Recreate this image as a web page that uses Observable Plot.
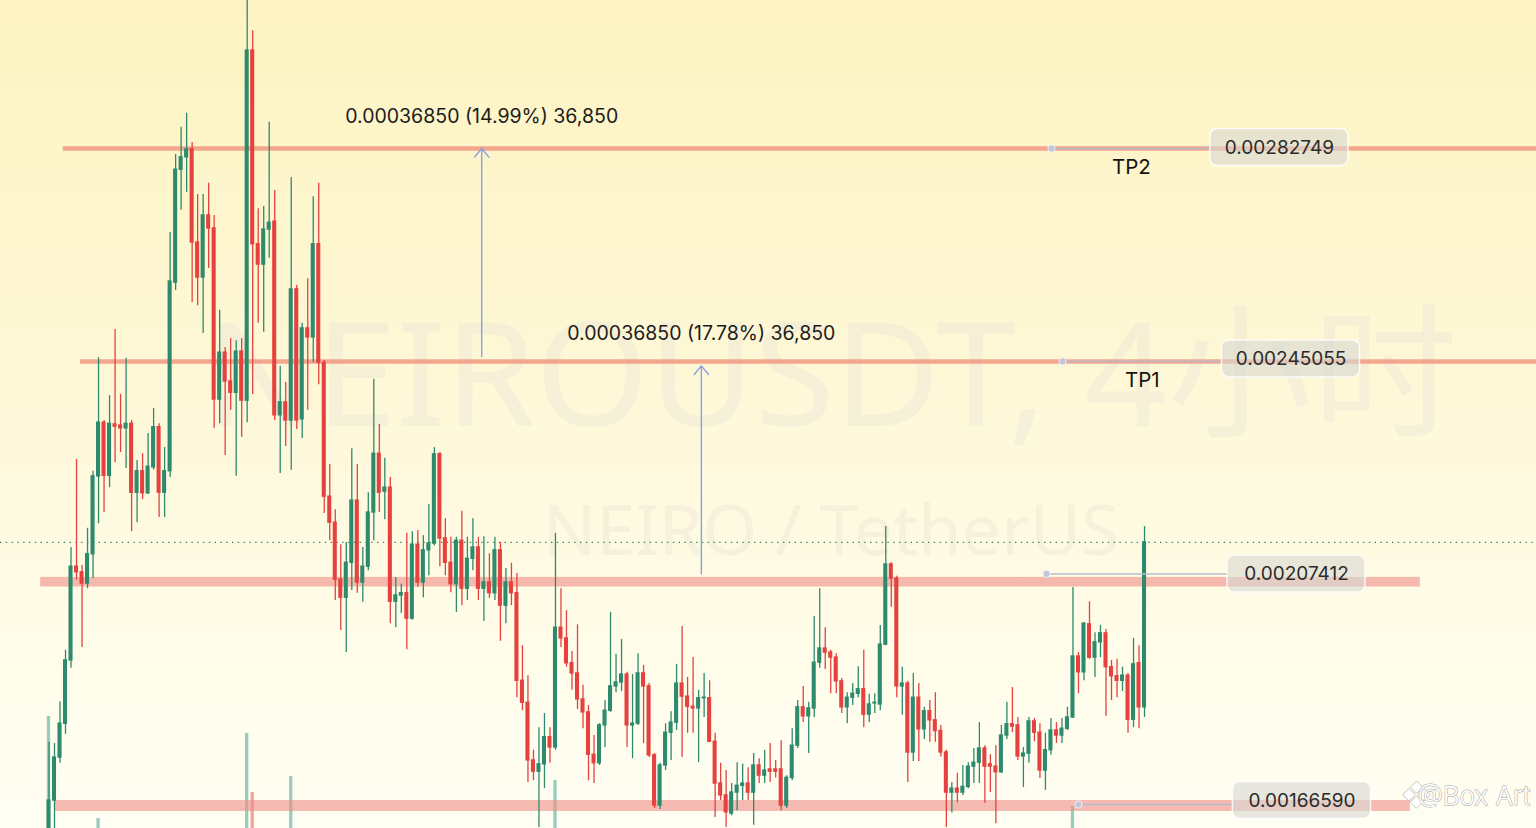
<!DOCTYPE html>
<html><head><meta charset="utf-8">
<script src="https://cdn.jsdelivr.net/npm/d3@7"></script>
<script src="https://cdn.jsdelivr.net/npm/@observablehq/plot@0.6"></script>
<style>
html,body{margin:0;padding:0;overflow:hidden;background:#fffdf0;}
#chart{width:1536px;height:828px;background:linear-gradient(to bottom,#fdf3c2 0%,#fef6cf 30%,#fef9dc 55%,#fffce9 78%,#fffef3 100%);}
#chart svg{display:block;overflow:hidden;}
</style></head><body><div id="chart"></div>
<script>
// NEIRO/USDT 4h candles, prices in µUSDT (×1e-6)
const open = [
1602,1673,1749,1809,1921,2087,2077,2057,2109,2247,
2342,2248,2339,2337,2332,2340,2218,2256,2217,2263,
2334,2218,2256,2590,2790,2812,2826,2661,2599,2709,
2686,2383,2466,2415,2395,2468,2381,3001,2658,2622,
2684,2698,2355,2378,2346,2578,2348,2509,2493,2658,
2448,2211,2165,2064,2032,2094,2204,2059,2087,2183,
2287,2220,2227,2025,2036,2040,1995,2126,2059,2116,
2128,2286,2137,2094,2056,2133,2048,2101,2121,2048,
2059,2040,2116,2018,2059,2040,1885,1846,1744,1724,
1737,1785,1767,1979,1960,1916,1898,1852,1829,1754,
1739,1806,1832,1875,1882,1896,1806,1809,1898,1875,
1753,1664,1735,1793,1811,1880,1857,1839,1836,1854,
1854,1777,1703,1682,1650,1687,1699,1703,1687,1735,
1717,1728,1728,1728,1664,1713,1770,1838,1822,1836,
1917,1942,1935,1926,1884,1838,1855,1862,1870,1825,
1845,1843,1949,2091,2066,1875,1880,1758,1855,1799,
1831,1815,1796,1758,1687,1694,1687,1697,1733,1740,
1765,1737,1733,1723,1788,1808,1806,1751,1756,1813,
1793,1726,1762,1797,1788,1800,1820,1928,1900,1985,
1926,1953,1969,1909,1893,1885,1894,1816,1916,1838];
const high = [
1776,1774,1848,1939,2121,2277,2089,2155,2256,2457,
2346,2390,2507,2392,2456,2346,2275,2287,2323,2367,
2340,2298,2679,2817,2865,2890,2838,2746,2746,2766,
2709,2541,2475,2491,2487,2491,3098,3036,2721,2725,
2874,2753,2442,2413,2776,2585,2518,2597,2742,2766,
2452,2268,2188,2126,2130,2296,2268,2121,2218,2419,
2339,2279,2245,2068,2056,2146,2149,2151,2142,2197,
2298,2289,2172,2139,2139,2185,2139,2172,2139,2140,
2110,2139,2130,2084,2093,2075,1947,1894,1762,1802,
1827,1802,2146,2048,2009,1937,1984,1877,1841,1788,
1809,1850,2006,1932,1958,1900,1896,1933,1912,1880,
1756,1739,1809,1830,1914,1981,1891,1926,1868,1898,
1885,1792,1739,1726,1703,1740,1737,1731,1756,1747,
1762,1774,1744,1779,1717,1800,1850,1875,1847,1999,
2048,1979,1939,1933,1889,1864,1880,1910,1939,1861,
1862,1983,2158,2094,2070,1909,1884,1898,1880,1838,
1850,1864,1806,1762,1705,1721,1735,1740,1765,1811,
1770,1754,1770,1806,1847,1873,1820,1767,1820,1818,
1809,1792,1818,1811,1818,1838,2050,1935,1988,2025,
1970,1983,1976,1921,1923,1909,1898,1960,1947,2158];
const low = [
1593,1611,1739,1790,1907,2063,1944,2048,2066,2163,
2183,2227,2271,2289,2261,2149,2165,2206,2215,2258,
2174,2174,2245,2576,2718,2750,2555,2549,2500,2615,
2332,2340,2284,2364,2247,2316,2342,2392,2518,2502,
2633,2346,2252,2300,2258,2330,2314,2364,2448,2409,
2181,2133,2027,1974,1935,2045,2040,2024,2080,2133,
2183,2170,1986,1979,2004,1940,1992,2050,2032,2071,
2124,2087,2071,2041,2006,2018,2027,2080,2027,1990,
2031,2027,1955,1986,2018,1855,1832,1705,1708,1625,
1694,1739,1762,1944,1909,1868,1834,1800,1708,1703,
1735,1767,1829,1864,1866,1767,1747,1806,1774,1749,
1659,1657,1726,1744,1797,1749,1792,1792,1740,1820,
1776,1643,1673,1625,1646,1655,1673,1673,1629,1703,
1703,1705,1713,1655,1659,1708,1765,1811,1756,1820,
1907,1905,1862,1862,1827,1809,1841,1855,1802,1811,
1827,1832,1947,2015,1855,1824,1705,1742,1742,1781,
1776,1776,1750,1625,1651,1669,1682,1694,1703,1703,
1668,1687,1632,1721,1781,1793,1744,1696,1739,1777,
1712,1691,1753,1774,1774,1797,1818,1862,1885,1923,
1891,1926,1822,1850,1855,1866,1792,1802,1800,1820];
const close = [
1673,1749,1809,1921,2087,2077,2057,2109,2247,2342,
2248,2340,2335,2332,2340,2218,2256,2217,2264,2334,
2218,2256,2592,2790,2812,2826,2661,2599,2709,2686,
2383,2466,2415,2395,2468,2381,3001,2658,2622,2684,
2696,2355,2378,2346,2578,2346,2509,2493,2658,2448,
2211,2165,2064,2032,2094,2204,2059,2087,2183,2287,
2218,2227,2025,2036,2040,1995,2126,2059,2116,2128,
2286,2137,2094,2056,2133,2048,2101,2121,2048,2059,
2040,2116,2018,2059,2040,1885,1846,1744,1724,1737,
1785,1767,1979,1960,1916,1898,1852,1829,1754,1739,
1806,1832,1875,1882,1896,1806,1809,1898,1875,1753,
1664,1735,1793,1811,1880,1857,1839,1836,1854,1855,
1777,1703,1682,1652,1687,1699,1703,1687,1735,1717,
1726,1724,1724,1664,1713,1770,1838,1822,1836,1917,
1942,1935,1926,1884,1838,1855,1862,1870,1825,1843,
1846,1949,2091,2066,1875,1880,1758,1855,1799,1831,
1815,1796,1758,1687,1694,1687,1697,1733,1740,1765,
1733,1733,1723,1788,1808,1804,1751,1756,1813,1793,
1726,1762,1797,1788,1800,1820,1928,1900,1986,1926,
1953,1969,1909,1893,1885,1894,1816,1914,1838,2130];

// visible volume spikes (candle index, relative volume, up/down)
const volIndex = [0, 9, 36, 37, 44, 92, 186];
const volValue = [184, 82, 167, 108, 124, 120, 94];
const volUp = [true, true, true, false, true, true, true];

// price levels with labels
const levelValues = [0.00282749, 0.00245055, 0.00207412, 0.00166590];
const levelNames = ["TP2", "TP1", "", ""];
// highlighted zones (lo, hi)
const zoneLo = [0.002051, 0.0016535];
const zoneHi = [0.002068, 0.001673];
// measurement arrows
const arrowFrom = [0.00245899, 0.00207412];
const arrowTo = [0.00282749, 0.00244262];
const arrowLabels = ["0.00036850 (14.99%) 36,850", "0.00036850 (17.78%) 36,850"];
const titleText = "NEIROUSDT, 4小时";
const subTitleText = "NEIRO / TetherUS";

const U = 1e-6;
const GREEN = "#2d8a6d", RED = "#e5423f";
const candles = open.map((o, i) => ({i, open: o * U, high: high[i] * U, low: low[i] * U, close: close[i] * U}));
const isUp = d => d.close >= d.open;
const lastClose = candles[candles.length - 1].close;
const volumes = volIndex.map((i, k) => ({i, v: volValue[k], up: volUp[k]}));
const volBase = 0.0014959, volUnit = 1.7708e-6;

// layout (index units on x, pixel nudges on y)
const dotX = [182.1, 184.1, 181.2, 187.0];
const boxX = [223.5, 225.6, 226.6, 227.6];
const boxDy = [-1, -2.5, 0, -4];
const labels = levelValues.map((v, k) => ({v, text: v.toFixed(8), dot: dotX[k], box: boxX[k], left: boxX[k] - 12.5, dy: boxDy[k]}));
const tps = [{v: levelValues[0], name: levelNames[0], x: 196.6}, {v: levelValues[1], name: levelNames[1], x: 198.6}];
const tpLines = [{v: levelValues[0], x1: 2.6}, {v: levelValues[1], x1: 5.7}];
const zones = [{lo: zoneLo[0], hi: zoneHi[0], x1: -1.5, x2: 249.1}, {lo: zoneLo[1], hi: zoneHi[1], x1: 1.2, x2: 247.3}];
const arrows = [{x: 78.6, from: arrowFrom[0], to: arrowTo[0], label: arrowLabels[0]}, {x: 118.5, from: arrowFrom[1], to: arrowTo[1], label: arrowLabels[1]}];
const XMAX = 270.2;

const boxMarks = labels.map(l => [
  Plot.rect([l], {x1: "box", x2: "box", y1: "v", y2: "v", dy: l.dy, insetLeft: -69, insetRight: -69, insetTop: -18.5, insetBottom: -18.5, rx: 7, fill: "#d9d8d2", fillOpacity: 0.62, stroke: "#ffffff", strokeOpacity: 0.85, strokeWidth: 1.5}),
  Plot.text([l], {x: "box", y: "v", dy: l.dy, text: "text", fontSize: 19, fill: "#2b2b2b", letterSpacing: 0.4})
]).flat();

const chart = Plot.plot({
  width: 1536, height: 828, margin: 0,
  x: {domain: [-8.81, XMAX], axis: null},
  y: {domain: [0.0016234, 0.0030896], axis: null},
  color: {type: "identity"},
  style: {background: "transparent", overflow: "hidden", fontFamily: "Inter, 'Noto Sans', sans-serif"},
  marks: [
    Plot.text([titleText], {x: 142.1, y: 0.002419, text: d => d, fontSize: 145, fill: "#ece7d6", fillOpacity: 0.5, fontFamily: "'Noto Sans', 'Noto Sans CJK SC', sans-serif"}),
    Plot.text([subTitleText], {x: 142.1, y: 0.0021465, text: d => d, fontSize: 70, fill: "#ece7d6", fillOpacity: 0.5, fontFamily: "'Noto Sans', sans-serif"}),
    Plot.rect(volumes, {x1: d => d.i - 0.3, x2: d => d.i + 0.3, y1: volBase, y2: d => volBase + d.v * volUnit, fill: d => d.up ? "#3fa58f" : "#ef5350", fillOpacity: 0.55}),
    Plot.rect(zones, {x1: "x1", x2: "x2", y1: "lo", y2: "hi", fill: "#ee8c86", fillOpacity: 0.6}),
    Plot.ruleY(tpLines, {y: "v", x1: "x1", x2: XMAX, stroke: "#f29d85", strokeWidth: 4.5, strokeOpacity: 0.9}),
    Plot.ruleY([lastClose], {stroke: GREEN, strokeWidth: 1.4, strokeDasharray: "1.4 4.4"}),
    Plot.ruleX(candles, {x: "i", y1: "low", y2: "high", stroke: d => isUp(d) ? GREEN : RED, strokeWidth: 1.3}),
    Plot.rect(candles, {x1: d => d.i - 0.37, x2: d => d.i + 0.37, y1: "open", y2: "close", fill: d => isUp(d) ? GREEN : RED, insetTop: -0.7, insetBottom: -0.7}),
    Plot.link(labels, {x1: "dot", x2: "left", y1: "v", y2: "v", stroke: "#b7bccd", strokeWidth: 1.5}),
    Plot.dot(labels, {x: "dot", y: "v", r: 3.6, fill: "#c2c6d8", stroke: "#eef0f6", strokeWidth: 1}),
    ...boxMarks,
    Plot.text(tps, {x: "x", y: "v", text: "name", dy: 19, fontSize: 20.5, fill: "#141414"}),
    Plot.arrow(arrows, {x1: "x", x2: "x", y1: "from", y2: "to", stroke: "#8a9fe6", strokeWidth: 1.4, headLength: 12, headAngle: 80}),
    Plot.text(arrows, {x: "x", y: "to", text: "label", dy: -32, fontSize: 19.5, fill: "#1c1c1c"}),
    Plot.text(["❖"], {frameAnchor: "bottom-right", dx: -120, dy: -24, text: d => d, fontSize: 28, fill: "#ffffff", stroke: "#a8a8a8", strokeWidth: 1, textAnchor: "middle"}),
    Plot.text(["@Box Art"], {frameAnchor: "bottom-right", dx: -6, dy: -24, text: d => d, fontSize: 26, fill: "#ffffff", stroke: "#9f9f9f", strokeWidth: 1, textAnchor: "end", fontWeight: 300})
  ]
});
document.getElementById("chart").appendChild(chart);
</script>
</body></html>
